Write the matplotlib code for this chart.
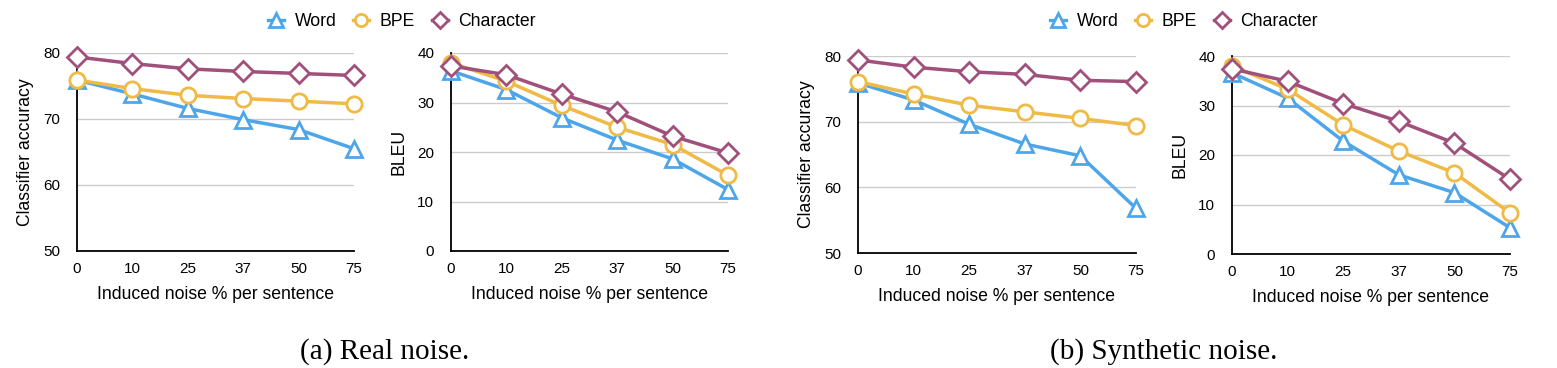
import matplotlib
matplotlib.use("Agg")
import matplotlib.pyplot as plt
from matplotlib.lines import Line2D

noise_levels = ["0", "10", "25", "37", "50", "75"]
series_names = ["Word", "BPE", "Character"]

real_acc_word = [75.9, 73.8, 71.6, 69.9, 68.4, 65.5]
real_acc_bpe = [75.9, 74.6, 73.6, 73.1, 72.7, 72.3]
real_acc_char = [79.4, 78.4, 77.6, 77.2, 76.9, 76.6]

real_bleu_word = [36.4, 32.6, 26.9, 22.4, 18.6, 12.4]
real_bleu_bpe = [38.0, 34.3, 29.4, 25.0, 21.5, 15.3]
real_bleu_char = [37.4, 35.6, 31.7, 28.1, 23.2, 19.8]

syn_acc_word = [75.9, 73.3, 69.6, 66.6, 64.8, 56.8]
syn_acc_bpe = [76.1, 74.2, 72.5, 71.5, 70.5, 69.4]
syn_acc_char = [79.4, 78.3, 77.6, 77.2, 76.3, 76.1]

syn_bleu_word = [36.6, 31.5, 22.8, 16.0, 12.4, 5.3]
syn_bleu_bpe = [38.0, 33.3, 26.1, 20.8, 16.4, 8.3]
syn_bleu_char = [37.4, 34.9, 30.4, 26.8, 22.4, 15.1]

colors = {"Word": "#4EA6EA", "BPE": "#EFBA45", "Character": "#A14F7B"}
markers = {"Word": "^", "BPE": "o", "Character": "D"}
msize = {"Word": 12, "BPE": 11, "Character": 10}

FONT = "Liberation Sans"
W, H = 1557, 368
fig = plt.figure(figsize=(W / 100, H / 100), dpi=100)

def rect(x0, x1, ytop, ybot):
    return [x0 / W, 1 - ybot / H, (x1 - x0) / W, (ybot - ytop) / H]

panels = [
    (rect(77, 354, 53, 251), (50, 80), [50, 60, 70, 80], "Classifier accuracy",
     [real_acc_word, real_acc_bpe, real_acc_char]),
    (rect(451, 728, 53, 251), (0, 40), [0, 10, 20, 30, 40], "BLEU",
     [real_bleu_word, real_bleu_bpe, real_bleu_char]),
    (rect(858, 1136, 56, 253), (50, 80), [50, 60, 70, 80], "Classifier accuracy",
     [syn_acc_word, syn_acc_bpe, syn_acc_char]),
    (rect(1232, 1510, 56, 254), (0, 40), [0, 10, 20, 30, 40], "BLEU",
     [syn_bleu_word, syn_bleu_bpe, syn_bleu_char]),
]

xs = list(range(len(noise_levels)))
for r, ylim, yticks, ylabel, data in panels:
    ax = fig.add_axes(r)
    for yt in yticks[1:]:
        ax.axhline(yt, color="#CCCCCC", lw=1.0, zorder=0)
    order = [2, 1, 0]
    for i in order:
        name = series_names[i]
        ax.plot(xs, data[i], color=colors[name], lw=2.5, marker=markers[name],
                markersize=msize[name], markerfacecolor="white",
                markeredgecolor=colors[name], markeredgewidth=2.0,
                clip_on=False, zorder=3 + i)
    ax.set_xlim(0, len(xs) - 1)
    ax.set_ylim(*ylim)
    ax.set_yticks(yticks)
    ax.set_xticks(xs)
    ax.set_xticklabels(noise_levels)
    for s in ["top", "right"]:
        ax.spines[s].set_visible(False)
    ax.spines["left"].set_color("black")
    ax.spines["bottom"].set_color("black")
    ax.spines["left"].set_linewidth(1.3)
    ax.spines["bottom"].set_linewidth(1.3)
    ax.tick_params(length=0, labelsize=11, pad=8)
    ax.tick_params(axis="y", pad=12)
    for lab in ax.get_xticklabels() + ax.get_yticklabels():
        lab.set_fontfamily(FONT)
    ax.set_ylabel(ylabel, fontsize=12.7, family=FONT, labelpad=7)
    ax.set_xlabel("Induced noise % per sentence", fontsize=12.7, family=FONT, labelpad=7)

handles = [Line2D([0], [0], color=colors[n], lw=2.4, marker=markers[n],
                  markersize=msize[n] * 0.8, markerfacecolor="white",
                  markeredgecolor=colors[n], markeredgewidth=2.0)
           for n in series_names]
for cx in [402, 1184]:
    fig.legend(handles, series_names, loc="center", bbox_to_anchor=(cx / W, 1 - 22 / H),
               ncol=3, frameon=False, prop={"family": FONT, "size": 12.7},
               handlelength=0.9, columnspacing=0.95, handletextpad=0.6)

fig.text(385 / W, 1 - 352 / H, "(a) Real noise.", ha="center", va="center",
         family="Liberation Serif", fontsize=21)
fig.text(1164 / W, 1 - 352 / H, "(b) Synthetic noise.", ha="center", va="center",
         family="Liberation Serif", fontsize=21)

fig.savefig("out.png", dpi=100)
